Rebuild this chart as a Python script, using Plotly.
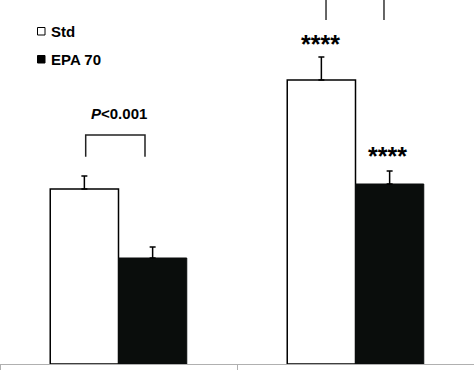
import plotly.graph_objects as go

categories = ["Group 1", "Group 2"]
series_names = ["Std", "EPA 70"]
std_values = [1.75, 2.84]
std_errors = [0.13, 0.23]
epa_values = [1.06, 1.80]
epa_errors = [0.11, 0.13]
p_label = "<b><i>P</i>&lt;0.001</b>"
star_label = "<b>****</b>"

W, H = 474, 370
FONT = "Liberation Sans, Arial, sans-serif"

fig = go.Figure()
fig.add_trace(go.Bar(
    x=categories, y=std_values, name=series_names[0],
    marker=dict(color="white", line=dict(color="black", width=1.5)),
    error_y=dict(type="data", symmetric=False, array=std_errors,
                 arrayminus=[0, 0], color="black", thickness=1.5, width=3),
    showlegend=False,
))
fig.add_trace(go.Bar(
    x=categories, y=epa_values, name=series_names[1],
    marker=dict(color="#0a0d0c", line=dict(color="#0a0d0c", width=1)),
    error_y=dict(type="data", symmetric=False, array=epa_errors,
                 arrayminus=[0, 0], color="black", thickness=1.5, width=3),
    showlegend=False,
))

shapes = []
line = dict(color="#222", width=1.5)
# P bracket
shapes.append(dict(type="path", xref="paper", yref="y",
                   path="M 0.1808 2.073 L 0.1808 2.29 L 0.3059 2.29 L 0.3059 2.073",
                   line=line))
# top lines (cut off bracket)
for xp in (0.6878, 0.8101):
    shapes.append(dict(type="line", xref="paper", yref="y", x0=xp, x1=xp,
                       y0=3.44, y1=3.70, line=dict(color="#333", width=1.5)))
# legend squares
shapes.append(dict(type="rect", xref="paper", yref="paper",
                   x0=37.5/W, x1=45/W, y0=1-35/364, y1=1-27.5/364,
                   line=dict(color="black", width=1), fillcolor="white"))
shapes.append(dict(type="rect", xref="paper", yref="paper",
                   x0=37.5/W, x1=45/W, y0=1-63/364, y1=1-55.5/364,
                   line=dict(color="black", width=1), fillcolor="black"))

annotations = [
    dict(text="<b>%s</b>" % series_names[0], x=49/W, y=1-31/364, xref="paper", yref="paper",
         xanchor="left", yanchor="middle", showarrow=False,
         font=dict(family=FONT, size=15, color="black")),
    dict(text="<b>%s</b>" % series_names[1], x=49/W, y=1-59.5/364, xref="paper", yref="paper",
         xanchor="left", yanchor="middle", showarrow=False,
         font=dict(family=FONT, size=15, color="black")),
    dict(text=p_label, x=119/W, y=2.51, xref="paper", yref="y",
         xanchor="center", yanchor="middle", showarrow=False,
         font=dict(family=FONT, size=15, color="black")),
    dict(text=star_label, x=320.7/W, y=3.20, xref="paper", yref="y",
         xanchor="center", yanchor="middle", showarrow=False,
         font=dict(family=FONT, size=25, color="black")),
    dict(text=star_label, x=387/W, y=2.08, xref="paper", yref="y",
         xanchor="center", yanchor="middle", showarrow=False,
         font=dict(family=FONT, size=25, color="black")),
]

fig.update_layout(
    width=W, height=H,
    margin=dict(l=0, r=0, t=0, b=6, pad=0),
    paper_bgcolor="white", plot_bgcolor="white",
    barmode="group", bargap=0.424, bargroupgap=0,
    shapes=shapes, annotations=annotations,
    xaxis=dict(range=[-0.5, 1.5], showline=True, linecolor="#b0b0b0", linewidth=1,
               ticks="outside", tickson="boundaries", ticklen=6, tickcolor="#b0b0b0",
               showticklabels=False, showgrid=False, zeroline=False),
    yaxis=dict(range=[0, 3.64], visible=False, showgrid=False, zeroline=False),
)

fig.write_html("out.html", config={"displayModeBar": False},
               post_script="document.body.style.margin='0';document.body.style.overflow='hidden';")
